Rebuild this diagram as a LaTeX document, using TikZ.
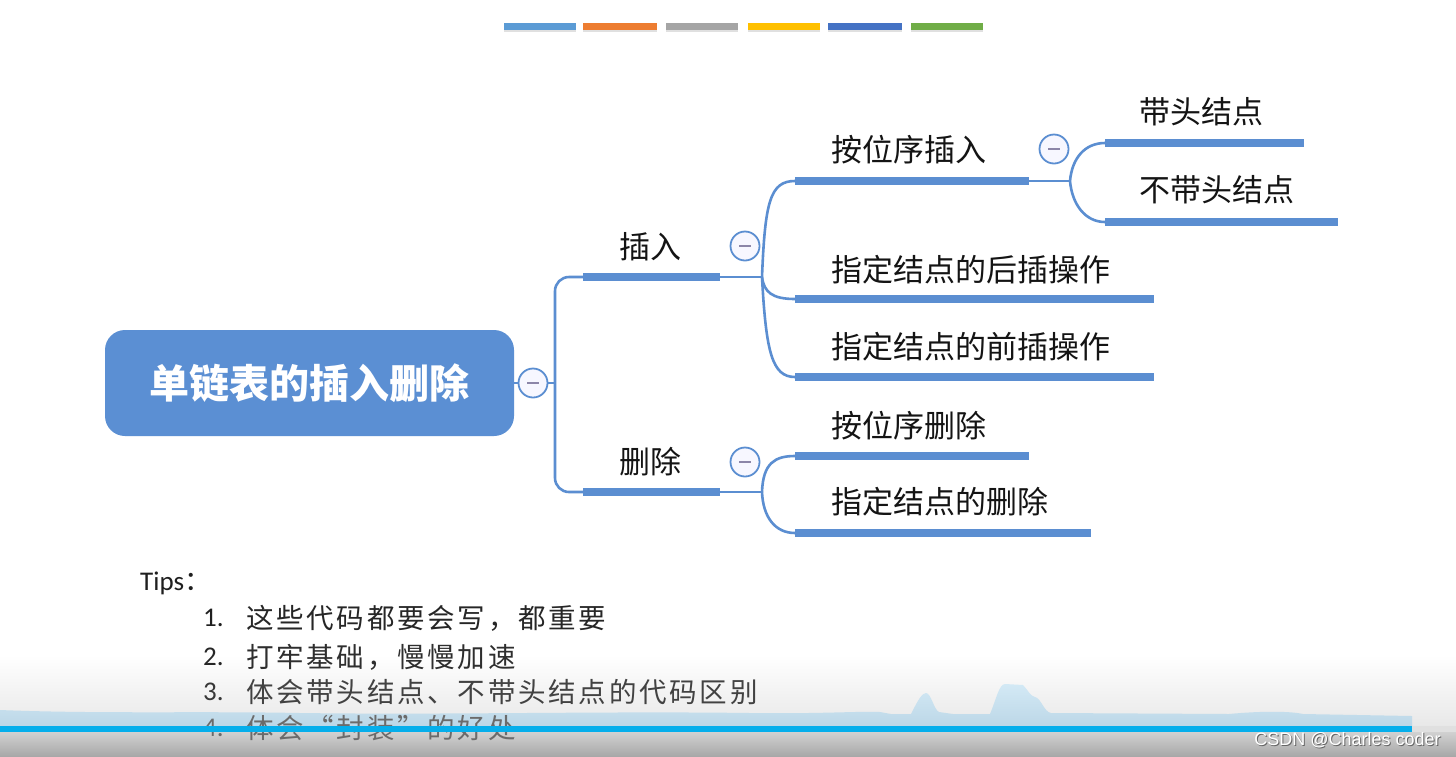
\documentclass[tikz,border=0pt]{standalone}
\usepackage{fontspec}
\setmainfont{Carlito}
\newfontfamily\cjk{Noto Sans CJK SC}
\newfontfamily\cjktips[LetterSpace=10]{Noto Sans CJK SC}
\newfontfamily\arialf{Liberation Sans}
\definecolor{mm}{HTML}{5B8ED1}
\definecolor{rootfill}{HTML}{5B8FD3}
\definecolor{minuscol}{HTML}{8C86A8}
\definecolor{cA}{HTML}{5B9BD5}
\definecolor{cB}{HTML}{ED7D31}
\definecolor{cC}{HTML}{A5A5A5}
\definecolor{cD}{HTML}{FFC000}
\definecolor{cE}{HTML}{4472C4}
\definecolor{cF}{HTML}{70AD47}
\definecolor{pbar}{HTML}{05AEEB}
\definecolor{waveT}{HTML}{D3E9F5}
\definecolor{waveB}{HTML}{BCD7E7}
\begin{document}
\begin{tikzpicture}[x=1pt,y=-1pt,
  conn/.style={draw=mm, line width=2.6pt},
  bar/.style={draw=mm, line width=8pt},
  lbl/.style={anchor=west, inner sep=0pt, font=\cjk\fontsize{31pt}{31pt}\selectfont, text=black!92},
  root/.style={rounded corners=20pt, fill=rootfill, text=white, minimum width=409pt, minimum height=106pt, inner sep=0pt, font=\cjk\bfseries\fontsize{40pt}{40pt}\selectfont},
  collapse/.style={circle, draw=mm, line width=1.8pt, fill=blue!3, minimum size=29pt, inner sep=0pt,
    path picture={\draw[line width=2pt, minuscol] ([xshift=-6pt]path picture bounding box.center) -- ([xshift=6pt]path picture bounding box.center);}},
  tipnum/.style={anchor=west, inner sep=0pt, font=\fontsize{27pt}{27pt}\selectfont},
  tiptxt/.style={anchor=west, inner sep=0pt, font=\cjktips\fontsize{27.5pt}{27.5pt}\selectfont},
  topbar/.style={line width=7pt}
]
\useasboundingbox (0,0) rectangle (1456,756);
\fill[white] (0,0) rectangle (1456,756);

% top colour bars
\foreach \xa/\xb/\c in {504/576/cA,583/657/cB,666/738/cC,748/820/cD,828/902/cE,911/983/cF}{
  \draw[topbar, black!12] (\xa,28) -- (\xb,28);
  \draw[topbar, \c] (\xa,26) -- (\xb,26);
}

% coordinates
\coordinate (rootJ) at (555,383);
\coordinate (insS) at (583,277); \coordinate (insE) at (720,277); \coordinate (insJ) at (762,277);
\coordinate (delS) at (583,492); \coordinate (delE) at (720,492); \coordinate (delJ) at (762,492);
\coordinate (aS) at (795,181); \coordinate (aE) at (1029,181); \coordinate (aJ) at (1070,181);
\coordinate (a1S) at (1105,143); \coordinate (a1E) at (1304,143);
\coordinate (a2S) at (1105,222); \coordinate (a2E) at (1338,222);
\coordinate (bS) at (795,299); \coordinate (bE) at (1154,299);
\coordinate (cS) at (795,377); \coordinate (cE) at (1154,377);
\coordinate (dS) at (795,456); \coordinate (dE) at (1029,456);
\coordinate (eS) at (795,533); \coordinate (eE) at (1091,533);

% root
\node[root] (root) at (309.5,383) {单链表的插入删除};
\node[collapse] (c0) at (533,383) {};
\draw[conn] (root.east) -- (c0.west);
\draw[conn] (c0.east) -- (rootJ);
\draw[conn, rounded corners=14pt] (insS) -| (rootJ) |- (delS);

% level 1
\draw[conn] (insE) -- (insJ);
\draw[conn] (delE) -- (delJ);
\draw[bar] (insS) -- (insE);
\draw[bar] (delS) -- (delE);
\node[lbl] (ins) at (619,247) {插入};
\node[lbl] (del) at (619,462) {删除};
\node[collapse] (c1) at (745,246) {};
\node[collapse] (c2) at (745,462) {};

% level 2 (insert)
\draw[conn] (insJ) .. controls (765,202) and (770,181) .. (aS);
\draw[conn] (insJ) .. controls (764,292) and (772,299) .. (bS);
\draw[conn] (insJ) .. controls (766,352) and (772,377) .. (cS);
\draw[bar] (aS) -- (aE);
\draw[bar] (bS) -- (bE);
\draw[bar] (cS) -- (cE);
\node[lbl] (a) at (831,150) {按位序插入};
\node[lbl] (b) at (831,270) {指定结点的后插操作};
\node[lbl] (c) at (831,347) {指定结点的前插操作};

% level 2 (delete)
\draw[conn] (delJ) .. controls (763,463) and (775,456) .. (dS);
\draw[conn] (delJ) .. controls (763,517) and (775,533) .. (eS);
\draw[bar] (dS) -- (dE);
\draw[bar] (eS) -- (eE);
\node[lbl] (d) at (831,426) {按位序删除};
\node[lbl] (e) at (831,502) {指定结点的删除};

% level 3
\draw[conn] (aE) -- (aJ);
\draw[conn] (aJ) .. controls (1072,158) and (1085,143) .. (a1S);
\draw[conn] (aJ) .. controls (1072,204) and (1085,222) .. (a2S);
\draw[bar] (a1S) -- (a1E);
\draw[bar] (a2S) -- (a2E);
\node[collapse] (c3) at (1054,149) {};
\node[lbl] (a1) at (1139,112) {带头结点};
\node[lbl] (a2) at (1139,190) {不带头结点};

% bottom player background
\shade[top color=white, bottom color=black!9] (0,655) rectangle (1456,726);
\shade[top color=black!18, bottom color=black!34] (0,732) rectangle (1456,756);

% tips
\node[anchor=west, inner sep=0pt, font=\fontsize{27pt}{27pt}\selectfont, text=black!88] (tips) at (140,583) {Tips{\cjk：}};
\node[tipnum, text=black!88] (n1) at (203,618) {1.};
\node[tiptxt, text=black!85] (t1) at (246,618) {这些代码都要会写，都重要};
\node[tipnum, text=black!85] (n2) at (203,657) {2.};
\node[tiptxt, text=black!82] (t2) at (246,657) {打牢基础，慢慢加速};
\node[tipnum, text=black!78] (n3) at (203,692) {3.};
\node[tiptxt, text=black!74] (t3) at (246,692) {体会带头结点、不带头结点的代码区别};

% waveform band
\shade[top color=waveT, bottom color=waveB]
  (0,726) -- (0,710) .. controls (100,714) and (200,711) .. (300,713)
  .. controls (450,715) and (600,711) .. (750,713)
  .. controls (820,714) and (860,711) .. (880,712)
  -- (891,714) -- (911,714)
  .. controls (918,700) and (922,693) .. (926,693)
  .. controls (931,693) and (934,710) .. (939,712)
  -- (953,714) -- (990,714)
  .. controls (996,700) and (999,684) .. (1005,684)
  -- (1023,685)
  .. controls (1028,690) and (1030,696) .. (1035,697)
  .. controls (1041,698) and (1044,712) .. (1051,713)
  -- (1229,714) .. controls (1260,711) and (1290,711) .. (1303,714)
  -- (1412,716) -- (1412,726) -- cycle;

\node[tipnum, text=black!58] (n4) at (203,728) {4.};
\node[tiptxt, text=black!58] (t4) at (246,728) {体会“封装”的好处};

% progress bar
\fill[pbar] (0,726) rectangle (1412,732);
\fill[black!12] (1412,726) rectangle (1456,732);

% watermark
\node[font=\arialf\fontsize{18pt}{18pt}\selectfont, text=black!60, inner sep=0pt] (wms) at (1348.5,741.5) {CSDN @Charles coder};
\node[font=\arialf\fontsize{18pt}{18pt}\selectfont, text=white, inner sep=0pt] (wm) at (1347.5,740.5) {CSDN @Charles coder};
\end{tikzpicture}
\end{document}
